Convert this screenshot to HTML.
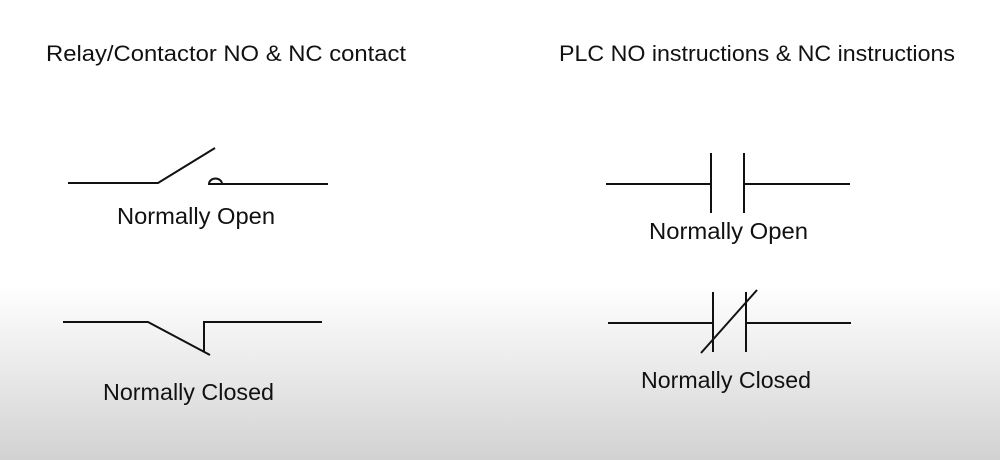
<!DOCTYPE html>
<html><head><meta charset="utf-8"><style>
html,body{margin:0;padding:0}
body{width:1000px;height:460px;overflow:hidden;background:linear-gradient(to bottom,#fff 0px,#fff 285px,#ececec 360px,#d2d2d2 460px)}
svg{display:block}
text{font-family:"Liberation Sans",sans-serif;fill:#111}
</style></head><body>
<svg width="1000" height="460" viewBox="0 0 1000 460" xmlns="http://www.w3.org/2000/svg">
<g font-size="22">
<text x="46" y="61" textLength="360" lengthAdjust="spacingAndGlyphs">Relay/Contactor NO &amp; NC contact</text>
<text x="559" y="61" textLength="396" lengthAdjust="spacingAndGlyphs">PLC NO instructions &amp; NC instructions</text>
</g>
<g font-size="23">
<text x="117" y="224" textLength="158" lengthAdjust="spacingAndGlyphs">Normally Open</text>
<text x="103" y="400" textLength="171" lengthAdjust="spacingAndGlyphs">Normally Closed</text>
<text x="649" y="239" textLength="159" lengthAdjust="spacingAndGlyphs">Normally Open</text>
<text x="641" y="388" textLength="170" lengthAdjust="spacingAndGlyphs">Normally Closed</text>
</g>
<g stroke="#111" stroke-width="2" fill="none">
<polyline points="68,183 158,183 215,148"/>
<path d="M209,184 A6.5,5.5 0 0 1 222,184 Z"/>
<line x1="209" y1="184" x2="328" y2="184"/>
<polyline points="63,322 148,322 210,355"/>
<polyline points="204,352 204,322 322,322"/>
<line x1="606" y1="184" x2="711" y2="184"/>
<line x1="711" y1="153" x2="711" y2="213"/>
<line x1="744" y1="153" x2="744" y2="213"/>
<line x1="744" y1="184" x2="850" y2="184"/>
<line x1="608" y1="323" x2="713" y2="323"/>
<line x1="713" y1="292" x2="713" y2="352"/>
<line x1="746" y1="292" x2="746" y2="352"/>
<line x1="746" y1="323" x2="851" y2="323"/>
<line x1="701" y1="353" x2="757" y2="290"/>
</g>
</svg>
</body></html>
